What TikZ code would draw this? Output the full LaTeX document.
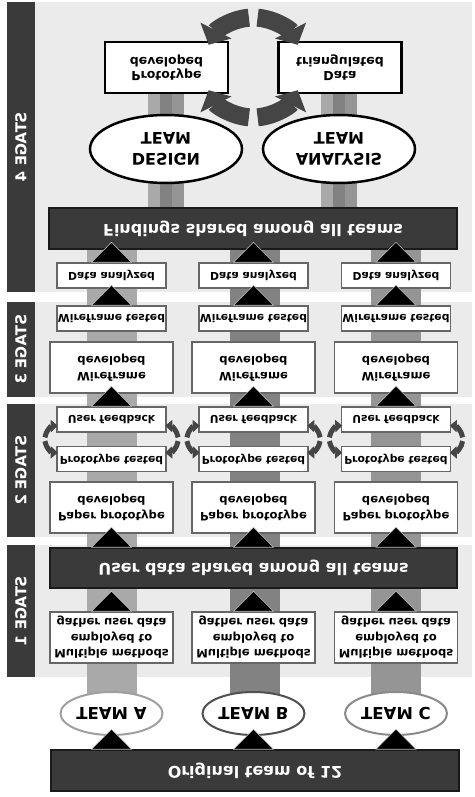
\documentclass[tikz,border=0pt]{standalone}
\usepackage{fontspec}
\setmainfont{DejaVu Sans}
\usetikzlibrary{shapes.geometric,arrows.meta,calc}
\definecolor{barc}{HTML}{3A3A3A}
\definecolor{barline}{HTML}{1A1A1A}
\definecolor{panel}{HTML}{EBEBEB}
\definecolor{stA}{HTML}{A9A9A9}
\definecolor{stB}{HTML}{828282}
\definecolor{stC}{HTML}{959595}
\definecolor{boxline}{HTML}{666666}
\definecolor{arrc}{HTML}{454545}
\definecolor{lnA}{HTML}{A0A0A0}
\definecolor{lnB}{HTML}{505050}
\definecolor{lnC}{HTML}{8A8A8A}
\tikzset{
 bar/.style={draw=barline, fill=barc, line width=1.5pt, text=white, font=\fontsize{16}{18}\selectfont\bfseries, inner sep=0pt},
 stagebar/.style={fill=barc, text=white, font=\fontsize{15}{17}\selectfont\bfseries, inner sep=0pt, rotate=90},
 bigbox/.style={draw=boxline, fill=white, line width=1.5pt, minimum width=123pt, minimum height=51pt, align=center, font=\fontsize{11.6}{15.5}\selectfont\bfseries, inner sep=0pt},
 smallbox/.style={draw=boxline, fill=white, line width=1.5pt, minimum width=109pt, minimum height=25pt, align=center, font=\fontsize{10.8}{12}\selectfont\bfseries, inner sep=0pt},
 team/.style={ellipse, fill=white, line width=2pt, minimum width=102pt, minimum height=43pt, font=\fontsize{16.5}{18}\selectfont\bfseries, inner sep=0pt},
 bigteam/.style={ellipse, draw=black, line width=2.5pt, fill=white, minimum width=152pt, minimum height=68pt, align=center, font=\fontsize{16}{21}\selectfont\bfseries, inner sep=0pt},
 sfourbox/.style={draw=black, line width=2.2pt, fill=white, minimum width=123pt, minimum height=51pt, align=center, font=\fontsize{12.5}{14}\selectfont\bfseries, inner sep=0pt},
 tri/.style={fill=black, draw=gray!50, line width=0.6pt},
 cyc/.style={draw=arrc, line width=18pt, -{Triangle[length=16pt,width=34pt]}},
 scyc/.style={draw=arrc, line width=5pt, -{Triangle[length=7pt,width=12pt]}},
}
\newcommand\mytri[1]{\filldraw[tri] ($(#1)+(-20,0)$) -- ($(#1)+(20,0)$) -- ($(#1)+(0,-20)$) -- cycle;}
\begin{document}
\begin{tikzpicture}[x=1pt,y=1pt]
\begin{scope}[yscale=-1,transform shape]
\useasboundingbox (0,0) rectangle (474,797);
% panels
\fill[panel] (35,2) rectangle (472,292);
\fill[panel] (35,302) rectangle (472,397);
\fill[panel] (35,404) rectangle (472,537);
\fill[panel] (35,545) rectangle (472,677);
% stage labels
\node[stagebar, minimum width=290pt, minimum height=28pt] (s4) at (21,147) {STAGE 4};
\node[stagebar, minimum width=95pt, minimum height=28pt] (s3) at (21,349.5) {STAGE 3};
\node[stagebar, minimum width=133pt, minimum height=28pt] (s2) at (21,470.5) {STAGE 2};
\node[stagebar, minimum width=132pt, minimum height=28pt] (s1) at (21,611) {STAGE 1};
% stripes
\foreach \cx/\col in {112/stA,254.5/stB,396/stC}
  \fill[\col] ({\cx-25},249) rectangle ({\cx+25},713);
\foreach \cx in {166,339} {
  \fill[stA] ({\cx-18},93) rectangle ({\cx-6},208);
  \fill[stB] ({\cx-6},93) rectangle ({\cx+6},208);
  \fill[stC] ({\cx+6},93) rectangle ({\cx+18},208);
}
% bottom bar and teams
\node[bar, minimum width=408pt, minimum height=41pt] (orig) at (255,770.5) {Original team of 12};
\foreach \c/\x/\lc in {A/111.5/lnA,B/253.5/lnB,C/396/lnC} {
  \node[team, draw=\lc] (team\c) at (\x,713.5) {TEAM \c};
  \node[bigbox] (mm\c) at (\x,637.5) {Multiple methods\\employed to\\gather user data};
  \node[bigbox] (pp\c) at (\x,507.5) {Paper prototype\\developed};
  \node[smallbox] (pt\c) at (\x,459) {Prototype tested};
  \node[smallbox] (uf\c) at (\x,419.5) {User feedback};
  \node[bigbox] (wd\c) at (\x,367.5) {Wireframe\\developed};
  \node[smallbox] (wt\c) at (\x,318.5) {Wireframe tested};
  \node[smallbox] (da\c) at (\x,275.5) {Data analyzed};
}
\node[bar, minimum width=407pt, minimum height=40pt] (ud) at (253.5,568) {User data shared among all teams};
\node[bar, minimum width=408pt, minimum height=41pt] (find) at (253,228.5) {Findings shared among all teams};
\node[bigteam] (design) at (166,149) {DESIGN\\TEAM};
\node[bigteam] (analysis) at (339,149) {ANALYSIS\\TEAM};
\node[sfourbox] (proto) at (166.5,67.5) {Prototype\\developed};
\node[sfourbox] (datatri) at (340,67.5) {Data\\triangulated};
% triangles
\foreach \c in {A,B,C} {
  \mytri{orig.south -| team\c}
  \mytri{mm\c.south}
  \mytri{ud.south -| mm\c}
  \mytri{uf\c.south}
  \mytri{wt\c.south}
  \mytri{da\c.south}
}
% stage 2 small cycles
\foreach \c in {A,B,C} {
  \coordinate (lc\c) at ($(uf\c.west)!.5!(pt\c.west)+(2,0)$);
  \coordinate (rc\c) at ($(uf\c.east)!.5!(pt\c.east)+(-2,0)$);
  \draw[scyc] ($(lc\c)+(188:13.5)$) arc[start angle=188,end angle=268,radius=13.5];
  \draw[scyc] ($(lc\c)+(172:13.5)$) arc[start angle=172,end angle=92,radius=13.5];
  \draw[scyc] ($(rc\c)+(-8:13.5)$) arc[start angle=-8,end angle=-88,radius=13.5];
  \draw[scyc] ($(rc\c)+(8:13.5)$) arc[start angle=8,end angle=88,radius=13.5];
}
% stage 4 big cycle
\coordinate (cc) at ($(proto.east)!.5!(datatri.west)$);
\draw[cyc] ($(cc)+(265:50)$) arc[start angle=265,end angle=207,radius=50];
\draw[cyc] ($(cc)+(95:50)$) arc[start angle=95,end angle=153,radius=50];
\draw[cyc] ($(cc)+(275:50)$) arc[start angle=275,end angle=333,radius=50];
\draw[cyc] ($(cc)+(85:50)$) arc[start angle=85,end angle=27,radius=50];
\end{scope}
\end{tikzpicture}
\end{document}
